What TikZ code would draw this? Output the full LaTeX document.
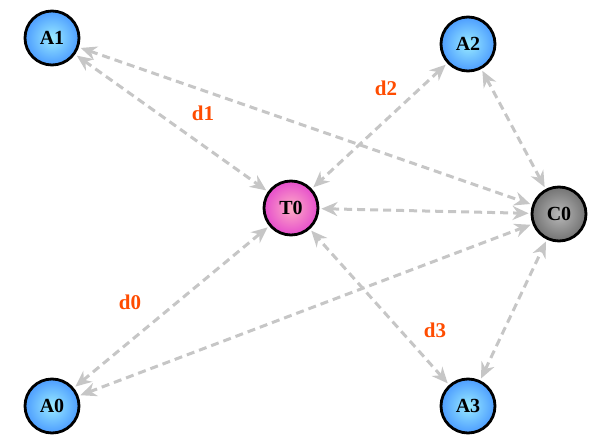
\documentclass[tikz,border=0pt]{standalone}
\usepackage{fontspec}
\setmainfont{Liberation Serif}
\usetikzlibrary{arrows.meta}
\begin{document}
\begin{tikzpicture}[x=1pt,y=-1pt,
  nd/.style={circle,draw=black,line width=2.8pt,minimum size=54pt,inner sep=0pt,font=\fontsize{20}{24}\selectfont\bfseries},
  blue/.style={nd,inner color=blue!20!cyan!40,outer color=blue!55!cyan!70!white},
  pink/.style={nd,inner color=pink!90!magenta,outer color=magenta!55!pink!90!black},
  gray/.style={nd,inner color=gray!55,outer color=gray!90!black},
  ed/.style={draw=gray!45,line width=3pt,dash pattern=on 8pt off 5pt,{Stealth[length=16pt,width=14pt]}-{Stealth[length=16pt,width=14pt]},shorten <=2pt,shorten >=2pt},
  lb/.style={text=orange!60!red,font=\fontsize{21}{25}\selectfont\bfseries}]
\useasboundingbox (0,0) rectangle (600,446);
\node[blue] (A1) at (52,38) {A1};
\node[blue] (A2) at (468,44) {A2};
\node[pink] (T0) at (291,208) {T0};
\node[gray] (C0) at (559,214) {C0};
\node[blue] (A0) at (52,406) {A0};
\node[blue] (A3) at (468,406) {A3};
\draw[ed] (A1) -- (T0);
\draw[ed] (A1) -- (C0);
\draw[ed] (A2) -- (T0);
\draw[ed] (A2) -- (C0);
\draw[ed] (T0) -- (C0);
\draw[ed] (A0) -- (T0);
\draw[ed] (A0) -- (C0);
\draw[ed] (A3) -- (T0);
\draw[ed] (A3) -- (C0);
\node[lb] (l1) at (203,113) {d1};
\node[lb] (l2) at (386,88) {d2};
\node[lb] (l0) at (130,302) {d0};
\node[lb] (l3) at (435,330) {d3};
\end{tikzpicture}
\end{document}
